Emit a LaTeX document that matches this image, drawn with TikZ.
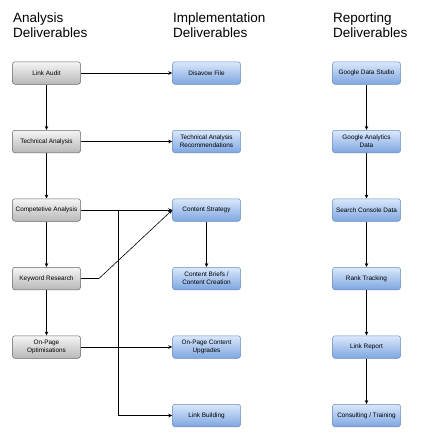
\documentclass[tikz,border=0pt]{standalone}
\usepackage{fontspec}
\setmainfont{Liberation Sans}
\usetikzlibrary{arrows.meta,shadings}
\definecolor{grayTop}{HTML}{F5F5F5}
\definecolor{grayBot}{HTML}{B8B8B8}
\definecolor{grayLine}{HTML}{666666}
\definecolor{blueTop}{HTML}{DAE8FC}
\definecolor{blueBot}{HTML}{7EA6E0}
\definecolor{blueLine}{HTML}{6C8EBF}
\tikzset{
  box/.style={rounded corners=2.5pt, minimum width=68pt, minimum height=22.5pt,
    inner sep=1pt, align=center, font=\fontsize{6.4}{7.8}\selectfont, line width=0.5pt},
  graybox/.style={box, draw=grayLine, top color=grayTop, bottom color=grayBot},
  bluebox/.style={box, draw=blueLine, top color=blueTop, bottom color=blueBot},
  conn/.style={line width=0.6pt, -{Stealth[length=4pt,width=3.6pt]}},
  head/.style={anchor=base west, inner sep=0pt, font=\fontsize{13.5}{15}\selectfont},
}
\begin{document}
\begin{tikzpicture}[x=1pt,y=-1pt]
\useasboundingbox (0,0) rectangle (430,437);
% headers
\node[head] (h1a) at (13,22.5) {Analysis};
\node[head] (h1b) at (13,37.5) {Deliverables};
\node[head] (h2a) at (173,22.5) {Implementation};
\node[head] (h2b) at (173,37.5) {Deliverables};
\node[head] (h3a) at (333,22.5) {Reporting};
\node[head] (h3b) at (333,37.5) {Deliverables};
% left column
\node[graybox] (la) at (46.5,73) {Link Audit};
\node[graybox] (ta) at (46.5,141.5) {Technical Analysis};
\node[graybox] (ca) at (46.5,210) {Competetive Analysis};
\node[graybox] (kr) at (46.5,278.5) {Keyword Research};
\node[graybox] (op) at (46.5,347) {On-Page\\Optimisations};
% middle column
\node[bluebox] (df) at (206.5,73) {Disavow File};
\node[bluebox] (tr) at (206.5,141.5) {Technical Analysis\\Recommendations};
\node[bluebox] (cs) at (206.5,210) {Content Strategy};
\node[bluebox] (cb) at (206.5,278.5) {Content Briefs /\\Content Creation};
\node[bluebox] (ou) at (206.5,347) {On-Page Content\\Upgrades};
\node[bluebox] (lb) at (206.5,415.5) {Link Building};
% right column
\node[bluebox] (gd) at (366.5,73) {Google Data Studio};
\node[bluebox] (ga) at (366.5,141.5) {Google Analytics\\Data};
\node[bluebox] (sc) at (366.5,210) {Search Console Data};
\node[bluebox] (rt) at (366.5,278.5) {Rank Tracking};
\node[bluebox] (lr) at (366.5,347) {Link Report};
\node[bluebox] (ct) at (366.5,415.5) {Consulting / Training};
% connectors
\draw[conn] (la) -- (df);
\draw[conn] (la) -- (ta);
\draw[conn] (ta) -- (tr);
\draw[conn] (ta) -- (ca);
\draw[conn] (ca) -- (cs);
\draw[conn] (ca) -- (kr);
\draw[conn] (kr) -- (op);
\draw[conn] (op) -- (ou);
\draw[conn] (cs) -- (cb);
\coordinate (j) at (118.3,210);
\draw[conn] (j) |- (lb.west);
\coordinate (k) at (99,278.5);
\draw[conn] (kr.east) -- (k) -- (cs.west);
\draw[conn] (gd) -- (ga);
\draw[conn] (ga) -- (sc);
\draw[conn] (sc) -- (rt);
\draw[conn] (rt) -- (lr);
\draw[conn] (lr) -- (ct);
\end{tikzpicture}
\end{document}
